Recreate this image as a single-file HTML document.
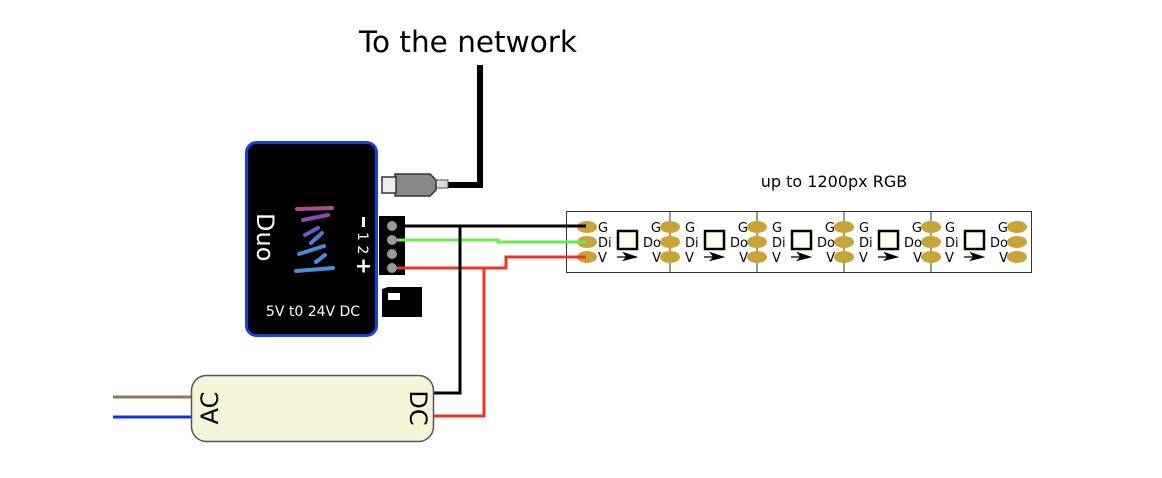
<!DOCTYPE html>
<html><head><style>html,body{margin:0;padding:0;background:#fff}svg{display:block}</style></head><body>
<svg width="1162" height="478" viewBox="0 0 1162 478" xmlns="http://www.w3.org/2000/svg" font-family="DejaVu Sans, Liberation Sans, sans-serif">
<text x="468" y="52" font-size="29.5" text-anchor="middle" fill="#000">To the network</text>
<text x="834" y="187" font-size="16" text-anchor="middle" fill="#000">up to 1200px RGB</text>
<!-- network cable -->
<path d="M480 65 V185 H445" fill="none" stroke="#000" stroke-width="6"/>
<rect x="432" y="180" width="16" height="8" fill="#ddd" stroke="#555"/>
<path d="M395 174 L430 174 L436 180 L436 190 L430 196 L395 196 Z" fill="#888" stroke="#333" stroke-width="1.5"/>
<rect x="382" y="177" width="14" height="16" fill="#eee" stroke="#333" stroke-width="1.5"/>
<!-- Duo box -->
<rect x="246.5" y="142.5" width="130" height="193" rx="10" fill="#000" stroke="#1a3ee0" stroke-width="3"/>
<text x="0" y="0" font-size="24" fill="#fff" transform="translate(257,213) rotate(90)">Duo</text>
<g stroke-width="4" stroke-linecap="round">
<line x1="297" y1="209" x2="332" y2="208" stroke="#b04a8a"/>
<line x1="303" y1="220" x2="328" y2="215" stroke="#8a4ab0"/>
<line x1="305" y1="235" x2="318" y2="228" stroke="#6a5ac0"/>
<line x1="311" y1="243" x2="322" y2="233" stroke="#5a7ad0"/>
<line x1="299" y1="254" x2="324" y2="246" stroke="#4a8ad0"/>
<line x1="316" y1="262" x2="325" y2="255" stroke="#4a8ad0"/>
<line x1="296" y1="271" x2="333" y2="268" stroke="#4a90d0"/>
</g>
<g fill="#fff">
<rect x="362" y="217" width="3" height="10"/>
<text x="0" y="0" font-size="14" transform="translate(358,232) rotate(90)">1 2</text>
<rect x="357" y="265" width="13" height="2.5"/><rect x="362.3" y="259.5" width="2.5" height="13"/>
</g>
<text x="313" y="316" font-size="14" fill="#fff" text-anchor="middle">5V t0 24V DC</text>
<!-- sd card -->
<path d="M382 289 L388 287 H422 V317 H382 Z" fill="#000"/>
<rect x="388" y="293" width="12" height="7" fill="#fff"/>
<!-- terminal -->
<rect x="379" y="216" width="26" height="59" fill="#000"/>
<g fill="#999"><circle cx="392" cy="226" r="5"/><circle cx="392" cy="240" r="5"/><circle cx="392" cy="254" r="5"/><circle cx="392" cy="268" r="5"/></g>
<!-- strip -->
<rect x="566.5" y="211.5" width="465" height="61" fill="#fff" stroke="#333" stroke-width="1"/>
<g stroke="#333" stroke-width="1"><line x1="670" y1="211" x2="670" y2="272"/><line x1="757" y1="211" x2="757" y2="272"/><line x1="844" y1="211" x2="844" y2="272"/><line x1="931" y1="211" x2="931" y2="272"/></g>
<g fill="#c8a436">
<ellipse cx="587" cy="227" rx="10" ry="6"/><ellipse cx="587" cy="242" rx="10" ry="6"/><ellipse cx="587" cy="257" rx="10" ry="6"/>
<ellipse cx="670" cy="227" rx="10" ry="6"/><ellipse cx="670" cy="242" rx="10" ry="6"/><ellipse cx="670" cy="257" rx="10" ry="6"/>
<ellipse cx="757" cy="227" rx="10" ry="6"/><ellipse cx="757" cy="242" rx="10" ry="6"/><ellipse cx="757" cy="257" rx="10" ry="6"/>
<ellipse cx="844" cy="227" rx="10" ry="6"/><ellipse cx="844" cy="242" rx="10" ry="6"/><ellipse cx="844" cy="257" rx="10" ry="6"/>
<ellipse cx="931" cy="227" rx="10" ry="6"/><ellipse cx="931" cy="242" rx="10" ry="6"/><ellipse cx="931" cy="257" rx="10" ry="6"/>
<ellipse cx="1017" cy="227" rx="10" ry="6"/><ellipse cx="1017" cy="242" rx="10" ry="6"/><ellipse cx="1017" cy="257" rx="10" ry="6"/>
</g>
<g font-size="13" fill="#000">
<g id="seg">
<text x="598" y="232">G</text><text x="598" y="247">Di</text><text x="598" y="262">V</text>
<rect x="618" y="231" width="19" height="18" fill="#fffff0" stroke="#000" stroke-width="2.5"/>
<path d="M617 257 H630 M624 253 L636 257 L624 260 L627 257 Z" stroke="#000" stroke-width="1.3" fill="#000"/>
<text x="661" y="232" text-anchor="end">G</text><text x="661" y="247" text-anchor="end">Do</text><text x="661" y="262" text-anchor="end">V</text>
</g>
<use href="#seg" transform="translate(87,0)"/>
<use href="#seg" transform="translate(174,0)"/>
<use href="#seg" transform="translate(261,0)"/>
<use href="#seg" transform="translate(347,0)"/>
</g>
<!-- wires -->
<path d="M397 226 H586" fill="none" stroke="#000" stroke-width="3"/>
<path d="M397 240 H498 V242 H586" fill="none" stroke="#66ee44" stroke-width="3"/>
<path d="M397 268 H506 V257 H586" fill="none" stroke="#ee3322" stroke-width="3"/>
<path d="M433 393 H460 V226" fill="none" stroke="#000" stroke-width="3"/>
<path d="M433 416 H484 V268" fill="none" stroke="#ee3322" stroke-width="3"/>
<!-- PSU -->
<line x1="113" y1="397" x2="192" y2="397" stroke="#8b7a55" stroke-width="3"/>
<line x1="113" y1="417" x2="192" y2="417" stroke="#1030ee" stroke-width="3"/>
<rect x="191.5" y="375.5" width="242" height="66" rx="15" fill="#f4f5d8" stroke="#555" stroke-width="1.5"/>
<text x="0" y="0" font-size="24" fill="#000" text-anchor="middle" transform="translate(218,408) rotate(-90)">AC</text>
<text x="0" y="0" font-size="24" fill="#000" text-anchor="middle" transform="translate(410,408) rotate(90)">DC</text>
</svg>
</body></html>
